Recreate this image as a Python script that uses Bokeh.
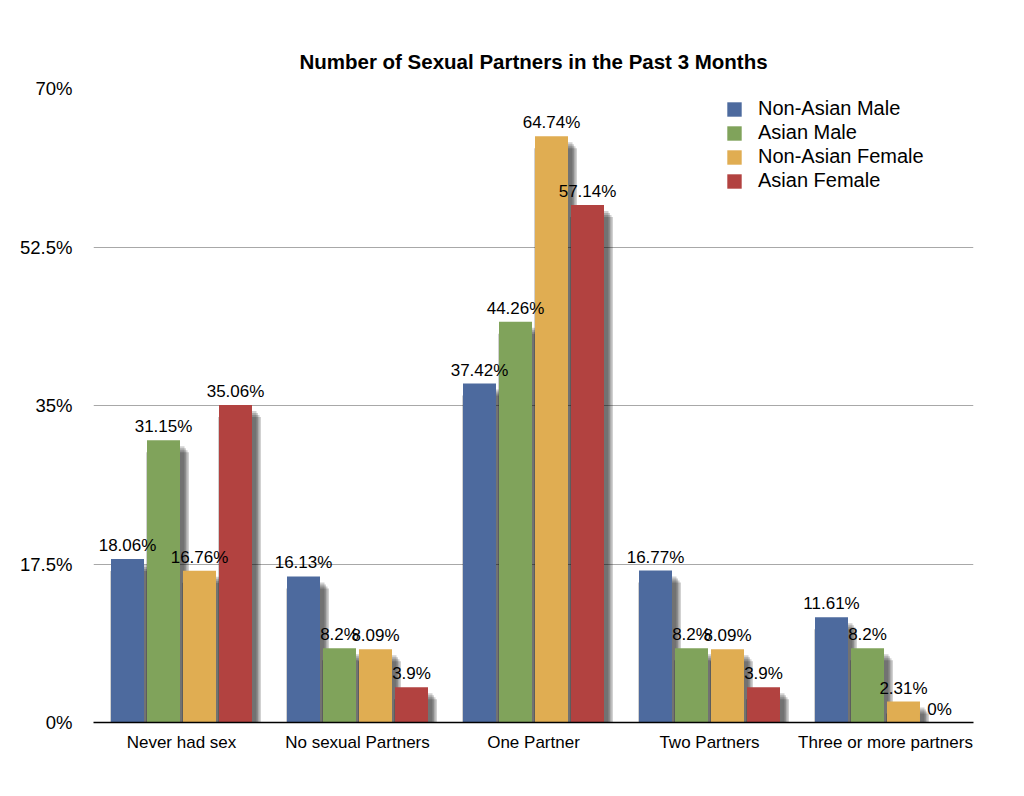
from bokeh.plotting import figure
from bokeh.models import FactorRange, FixedTicker, Legend, LegendItem, ColumnDataSource, Range1d
from bokeh.transform import dodge
from bokeh.core.properties import value
from bokeh.embed import file_html
from bokeh.resources import INLINE

categories = ["Never had sex", "No sexual Partners", "One Partner", "Two Partners", "Three or more partners"]
series_names = ["Non-Asian Male", "Asian Male", "Non-Asian Female", "Asian Female"]
non_asian_male = [18.06, 16.13, 37.42, 16.77, 11.61]
asian_male = [31.15, 8.2, 44.26, 8.2, 8.2]
non_asian_female = [16.76, 8.09, 64.74, 8.09, 2.31]
asian_female = [35.06, 3.9, 57.14, 3.9, 0]
y_ticks = [0, 17.5, 35, 52.5, 70]
y_tick_labels = ["0%", "17.5%", "35%", "52.5%", "70%"]

series = [non_asian_male, asian_male, non_asian_female, asian_female]
colors = ["#4d6a9e", "#80a35b", "#e0ad52", "#b24240"]
FONT = "Liberation Sans"

p = figure(x_range=FactorRange(*categories, range_padding=0), y_range=Range1d(0, 70),
           width=1016, height=788, output_backend="svg", toolbar_location=None,
           min_border_left=93, min_border_right=43, min_border_top=88, min_border_bottom=66)
p.background_fill_color = "white"
p.border_fill_color = "white"
p.outline_line_color = None

p.title.text = "Number of Sexual Partners in the Past 3 Months"
p.title.align = "center"
p.title.text_font = FONT
p.title.text_font_size = "20.5px"
p.title.text_font_style = "bold"
p.title.text_color = "black"
p.title.standoff = 31

PX = 1.0 / 176.0  # one pixel in x data units
PY = 70.0 / 634.0  # one pixel in y data units
bw = 33 * PX
step = 36 * PX
offsets = [(-1.5 + i) * step for i in range(4)]

items = []
for i, (vals, col, name) in enumerate(zip(series, colors, series_names)):
    src = ColumnDataSource(dict(cat=categories, val=vals))
    # soft drop shadow (layered translucent rects)
    for extra, drop in [(10, 12), (7, 10), (4, 8), (1, 6)]:
        tops = [max(v - drop * PY, 0) for v in vals]
        ssrc = ColumnDataSource(dict(cat=categories, top=tops))
        p.vbar(x=dodge("cat", offsets[i] + 4 * PX, range=p.x_range), top="top", bottom=-3 * PY,
               width=bw + extra * PX, source=ssrc, fill_color="black", fill_alpha=0.18,
               line_color=None)
    r = p.vbar(x=dodge("cat", offsets[i], range=p.x_range), top="val", bottom=0, width=bw,
               source=src, fill_color=col, line_color=None)
    items.append(LegendItem(label=name, renderers=[r]))

for i, vals in enumerate(series):
    src = ColumnDataSource(dict(cat=categories, val=vals, lab=[("%g" % v) + "%" for v in vals]))
    p.text(x=dodge("cat", offsets[i], range=p.x_range), y="val", text="lab", source=src,
           text_align="center", text_baseline="bottom", y_offset=-4,
           text_font=value(FONT), text_font_size="17px", text_color="black")

p.yaxis.ticker = FixedTicker(ticks=y_ticks)
p.yaxis.major_label_overrides = {t: l for t, l in zip(y_ticks, y_tick_labels)}
p.yaxis.axis_line_color = None
p.yaxis.major_tick_line_color = None
p.yaxis.minor_tick_line_color = None
p.yaxis.major_label_standoff = 15
p.yaxis.major_label_text_font = FONT
p.yaxis.major_label_text_font_size = "18.5px"
p.yaxis.major_label_text_color = "black"

p.xaxis.axis_line_color = "black"
p.xaxis.axis_line_width = 1.5
p.xaxis.major_tick_line_color = None
p.xaxis.minor_tick_line_color = None
p.xaxis.major_label_standoff = 4
p.xaxis.major_label_text_font = FONT
p.xaxis.major_label_text_font_size = "17px"
p.xaxis.major_label_text_color = "black"

p.xgrid.grid_line_color = None
p.ygrid.grid_line_color = "#a8a8a8"
p.ygrid.grid_line_width = 1.2

legend = Legend(items=items, location=(632, 530), glyph_width=18, glyph_height=18,
                label_height=18, spacing=1, label_standoff=15, padding=0, margin=0,
                label_text_font=FONT, label_text_font_size="20px", label_text_color="black",
                border_line_color=None, background_fill_alpha=0)
p.add_layout(legend, "center")

open("out.html", "w").write(file_html(p, INLINE))
